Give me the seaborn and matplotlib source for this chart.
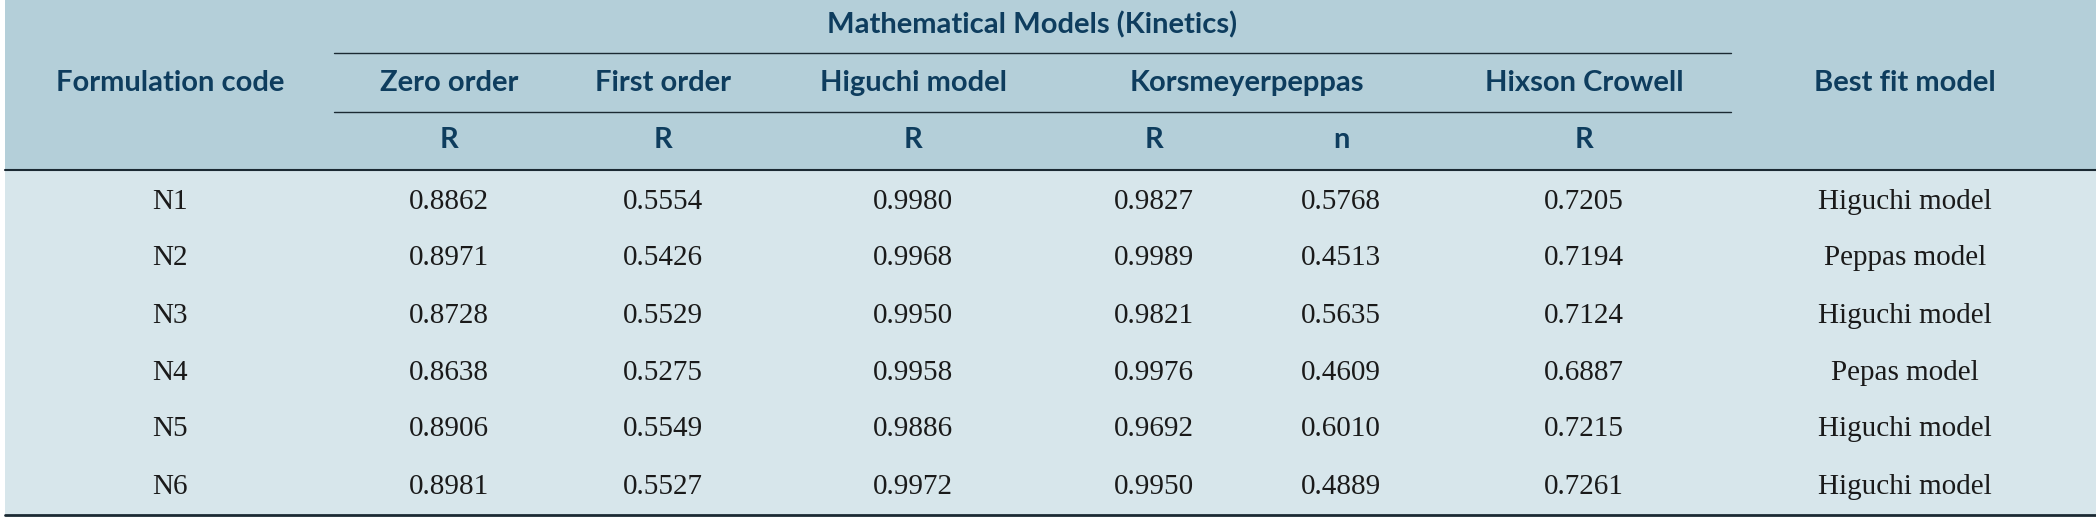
import matplotlib
matplotlib.use("Agg")
import matplotlib.pyplot as plt
import seaborn as sns

sns.set_theme(style="white")

codes = ["N1", "N2", "N3", "N4", "N5", "N6"]
zero_r = ["0.8862", "0.8971", "0.8728", "0.8638", "0.8906", "0.8981"]
first_r = ["0.5554", "0.5426", "0.5529", "0.5275", "0.5549", "0.5527"]
higuchi_r = ["0.9980", "0.9968", "0.9950", "0.9958", "0.9886", "0.9972"]
kp_r = ["0.9827", "0.9989", "0.9821", "0.9976", "0.9692", "0.9950"]
kp_n = ["0.5768", "0.4513", "0.5635", "0.4609", "0.6010", "0.4889"]
hix_r = ["0.7205", "0.7194", "0.7124", "0.6887", "0.7215", "0.7261"]
best = ["Higuchi model", "Peppas model", "Higuchi model", "Pepas model", "Higuchi model", "Higuchi model"]

W, H = 2096, 521
fig = plt.figure(figsize=(W/100, H/100), dpi=100)
ax = fig.add_axes([0, 0, 1, 1])
ax.set_xlim(0, W); ax.set_ylim(H, 0); ax.axis("off")

hdr_bg = "#b4cfd9"; body_bg = "#d7e6eb"; hc = "#0e3d5e"
ax.add_patch(plt.Rectangle((5, 0), W-5, 170, color=hdr_bg, lw=0))
ax.add_patch(plt.Rectangle((5, 170), W-5, 345, color=body_bg, lw=0))
ax.plot([5, W], [170, 170], color="#1b2a33", lw=1.5)
ax.plot([5, W], [515, 515], color="#1b2a33", lw=2)
ax.plot([334, 1731], [53, 53], color="#1b2a33", lw=1)
ax.plot([334, 1731], [112, 112], color="#1b2a33", lw=1)

hf = dict(family=["Lato", "DejaVu Sans"], weight="bold", fontsize=21, color=hc, ha="center", va="center")
bf = dict(family=["Liberation Serif", "DejaVu Serif"], fontsize=21, color="#1a1a1a", ha="center", va="center")

ax.text(1032, 25, "Mathematical Models (Kinetics)", **hf)
ax.text(170, 83, "Formulation code", **hf)
ax.text(1905, 83, "Best fit model", **hf)
cols = [449, 663, 913, 1154, 1341, 1584]
for x, t in zip([449, 663, 913, 1247, 1584], ["Zero order", "First order", "Higuchi model", "Korsmeyerpeppas", "Hixson Crowell"]):
    ax.text(x, 83, t, **hf)
for x, t in zip(cols, ["R", "R", "R", "R", "n", "R"]):
    ax.text(x, 140, t, **hf)

rows_y = [202, 258, 316, 373, 429, 487]
series = [codes, zero_r, first_r, higuchi_r, kp_r, kp_n, hix_r, best]
xs = [170] + cols + [1905]
for x, s in zip(xs, series):
    for y, v in zip(rows_y, s):
        ax.text(x, y, v, **bf)

fig.savefig("out.png", dpi=100)
